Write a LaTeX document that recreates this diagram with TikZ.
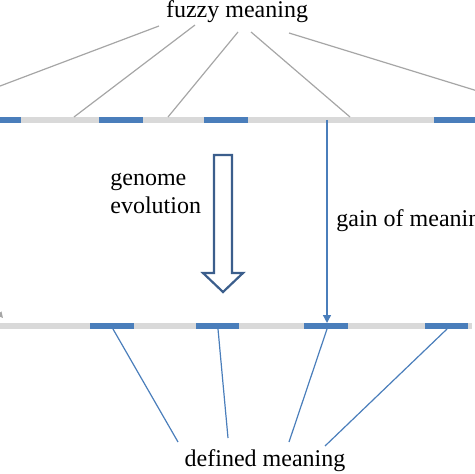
\documentclass[tikz,border=0pt]{standalone}
\usepackage{fontspec}
\setmainfont{Liberation Serif}
\usepackage{xcolor}
\usepackage{tikz}
\usetikzlibrary{positioning,calc,arrows.meta}

\definecolor{barGray}{HTML}{D9D9D9}
\definecolor{segBlue}{HTML}{4A7EBB}
\definecolor{lineGray}{HTML}{A6A6A6}
\definecolor{arrowBlue}{HTML}{3B5E8C}

\tikzset{
	genome/.style={barGray, line width=3pt},
	motif/.style={segBlue, line width=3pt},
	fuzzyline/.style={lineGray, line width=0.6pt},
	definedline/.style={segBlue, line width=0.6pt},
	lbl/.style={inner sep=0, font=\fontsize{12}{14}\selectfont}
}

\begin{document}
\begin{tikzpicture}[x=0.5pt, y=-0.5pt]
	\useasboundingbox (0,0) rectangle (474,474);
	% genomes before and after
	\draw[genome] (-5,120) -- (479,120);
	\draw[genome] (-5,326) -- (472,326);
	\foreach \a/\b in {-5/21, 99/143, 204/248, 434/479}
		\draw[motif] (\a,120) -- (\b,120);
	\foreach \a/\b in {90/134, 196/239, 304/348, 425/468}
		\draw[motif] (\a,326) -- (\b,326);
	% labels
	\node[lbl, anchor=base] (fuzzy) at (237,18) {fuzzy meaning};
	\node[lbl, anchor=base] (defined) at (265,466) {defined meaning};
	\node[lbl, anchor=base west, align=left] (evo) at (110,214) {genome\\evolution};
	\node[lbl, anchor=base west] (gain) at (336,227) {gain of meaning};
	% ends of the connectors
	\coordinate (fa1) at (159,26);  \coordinate (fb1) at (-82,117);
	\coordinate (fa2) at (195,25);  \coordinate (fb2) at (74,117);
	\coordinate (fa3) at (238,32);  \coordinate (fb3) at (168,117);
	\coordinate (fa4) at (251,32);  \coordinate (fb4) at (350,117);
	\coordinate (fa5) at (289,33);  \coordinate (fb5) at (562,117);
	\coordinate (da1) at (178,442); \coordinate (db1) at (113,329);
	\coordinate (da2) at (228,438); \coordinate (db2) at (218,329);
	\coordinate (da3) at (289,442); \coordinate (db3) at (327,329);
	\coordinate (da4) at (325,446); \coordinate (db4) at (447,329);
	\foreach \i in {1,...,5}
		\draw[fuzzyline] (fa\i) -- (fb\i);
	\foreach \i in {1,...,4}
		\draw[definedline] (da\i) -- (db\i);
	% gain of meaning
	\coordinate (gtop) at (327,120);
	\coordinate (gbot) at (327,323);
	\draw[segBlue, line width=0.7pt, -{Triangle[length=4pt, width=4pt]}] (gtop) -- (gbot);
	% arrow cut off at the left edge
	\draw[lineGray, line width=0.6pt, -{Triangle[length=3pt, width=3pt]}] (-40,268) -- (3,318);
	% genome evolution
	\draw[arrowBlue, line width=1.1pt, fill=white, line join=miter]
		(214,155) -- (232,155) -- (232,273) -- (243,273) -- (223,292)
		-- (203,273) -- (214,273) -- cycle;
\end{tikzpicture}
\end{document}
